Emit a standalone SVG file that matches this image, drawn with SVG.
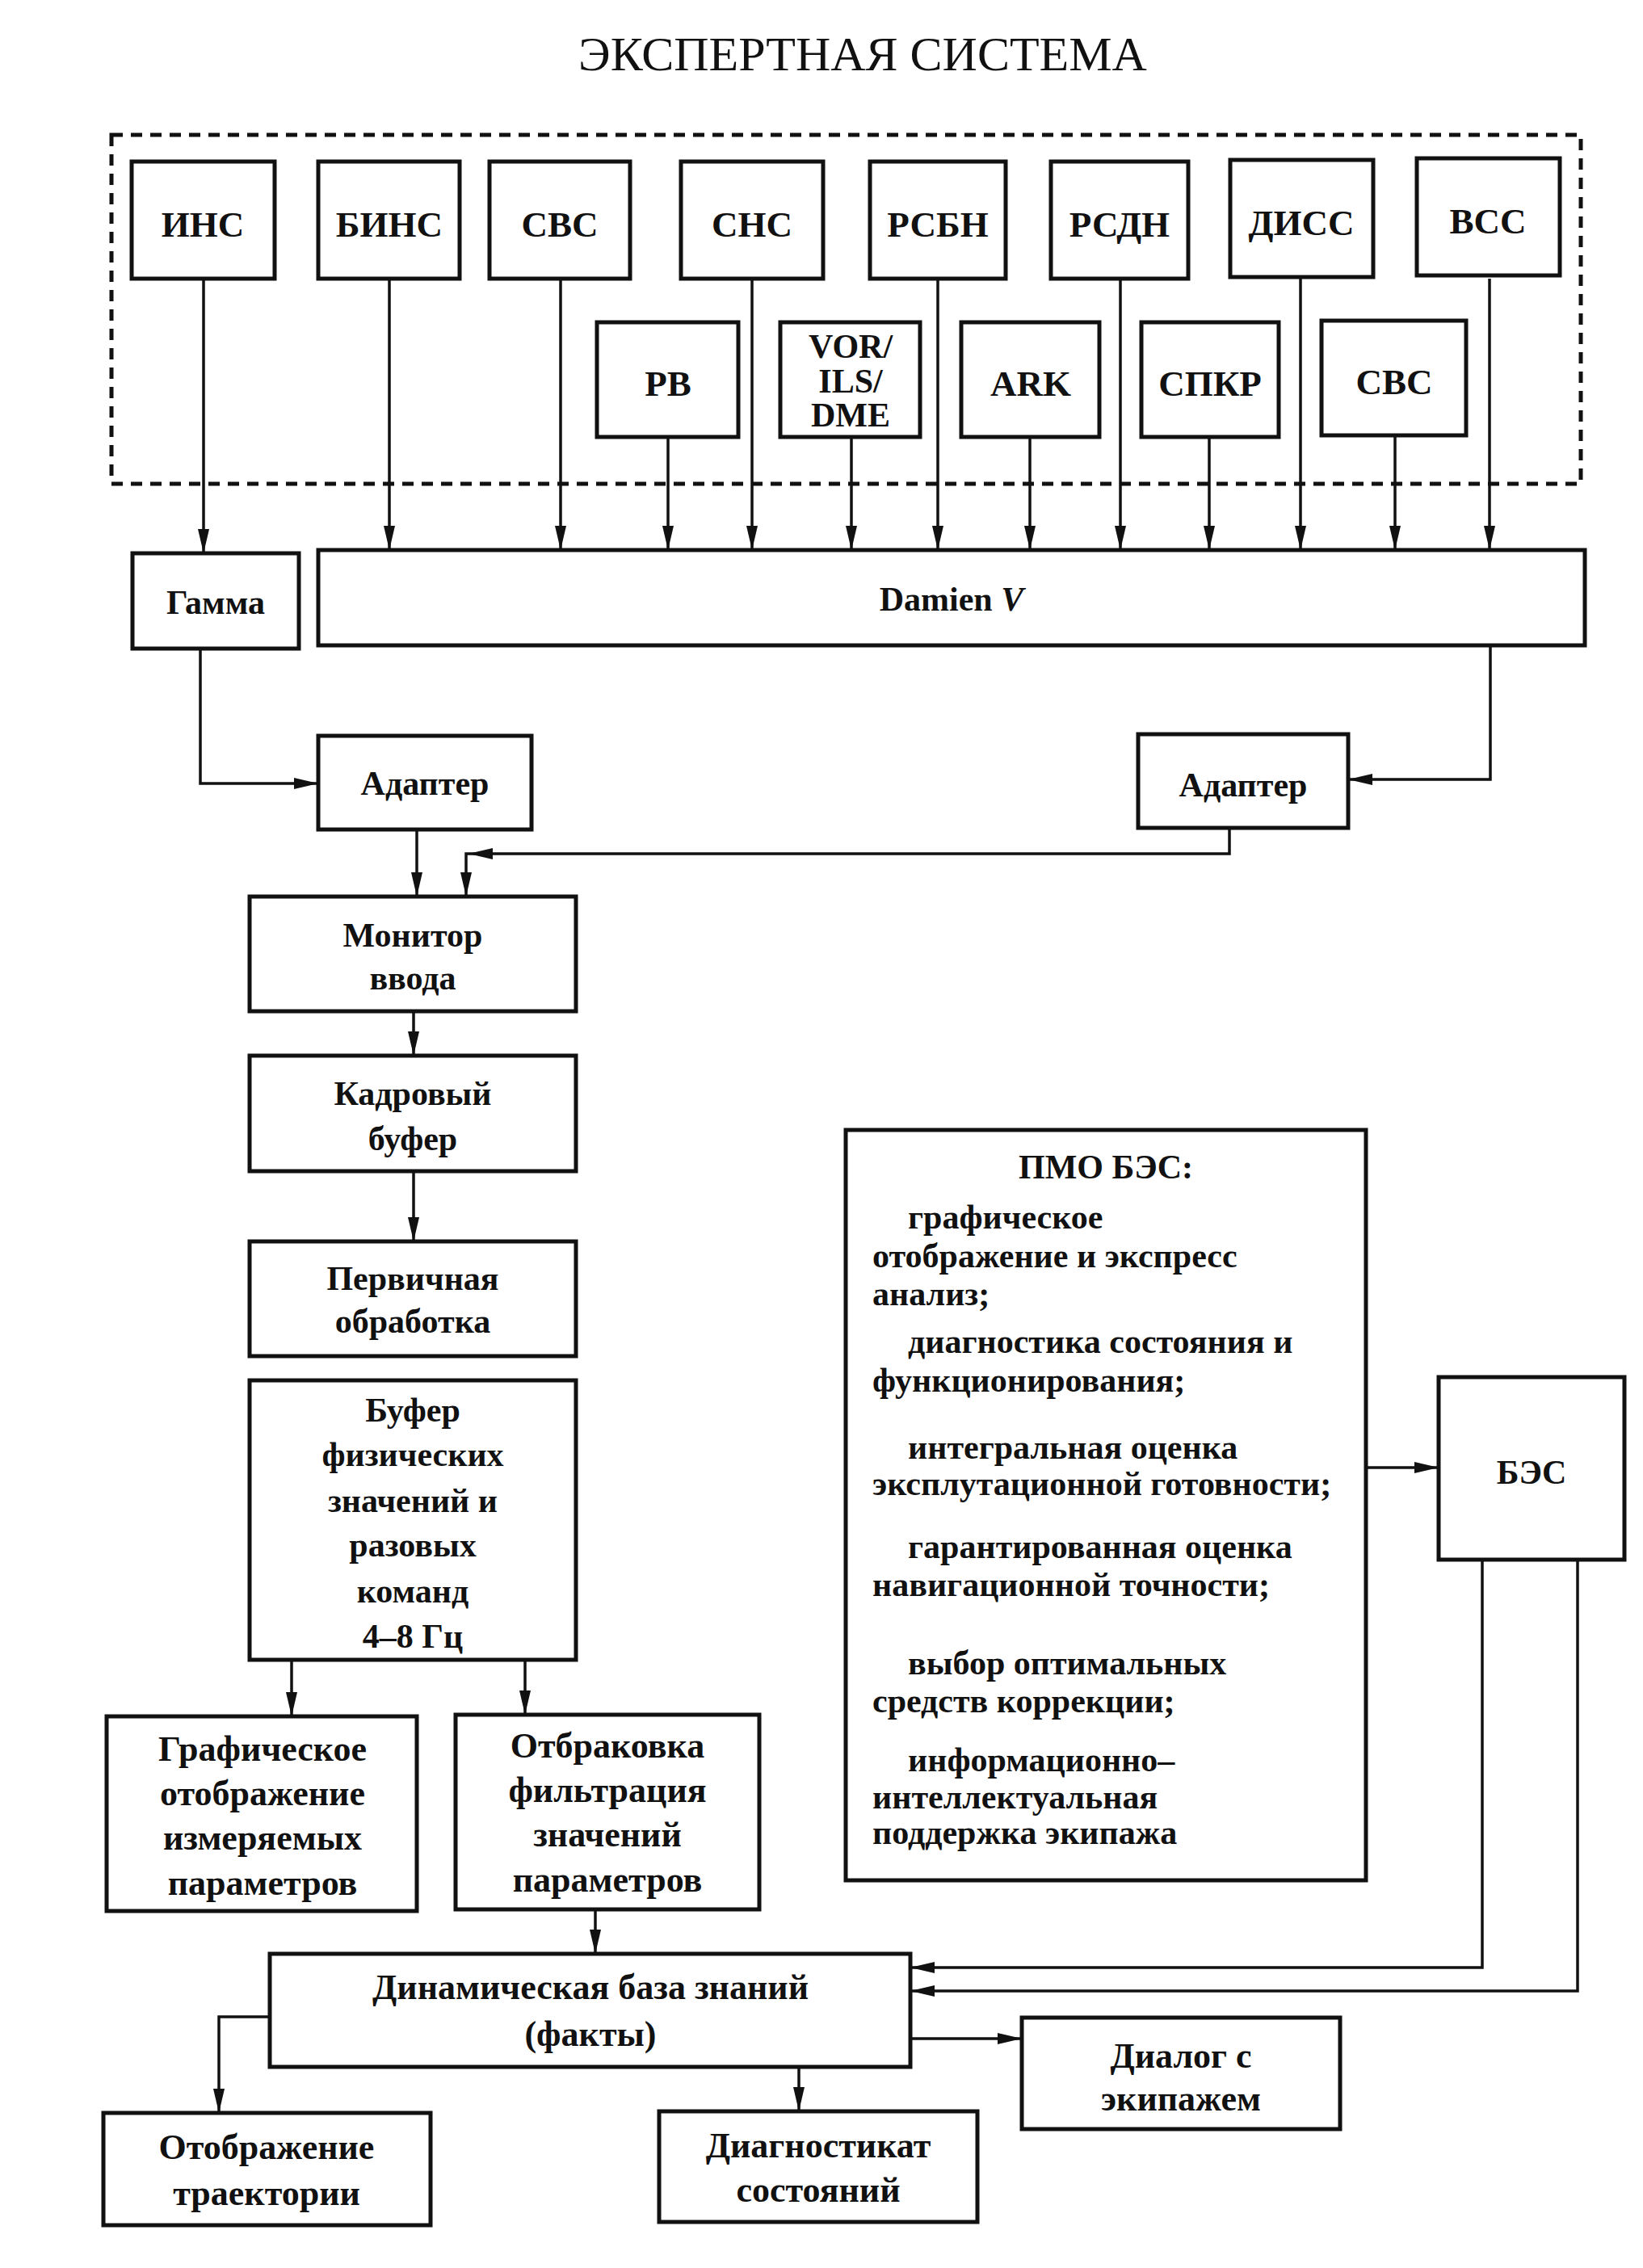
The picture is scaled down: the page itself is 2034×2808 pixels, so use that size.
<svg xmlns="http://www.w3.org/2000/svg" width="2034" height="2808" viewBox="0 0 2034 2808">
<style>
.b{fill:#fff;stroke:#111;stroke-width:5}
.t{font-family:"Liberation Serif","Times New Roman",serif;font-weight:bold;font-size:42px;fill:#111;text-anchor:middle}
.tt{font-size:45px}
.tb{font-size:44px}
.l{font-family:"Liberation Serif","Times New Roman",serif;font-weight:bold;font-size:42px;fill:#111}
.c{fill:none;stroke:#111;stroke-width:3.5}
</style>
<defs>
<marker id="a" markerUnits="userSpaceOnUse" markerWidth="30" markerHeight="14" refX="30" refY="7" orient="auto">
<path d="M0,0 L30,7 L0,14 z" fill="#111"/>
</marker>
</defs>
<rect width="2034" height="2808" fill="#fff"/>
<text x="1068" y="87" font-family="Liberation Serif,Times New Roman,serif" font-size="60" fill="#111" text-anchor="middle">ЭКСПЕРТНАЯ СИСТЕМА</text>
<rect x="138" y="167" width="1819" height="432" fill="none" stroke="#111" stroke-width="5" stroke-dasharray="14 10"/>

<g id="connectors">
<path class="c" marker-end="url(#a)" d="M252,345 V685"/>
<path class="c" marker-end="url(#a)" d="M482,345 V681"/>
<path class="c" marker-end="url(#a)" d="M694,345 V681"/>
<path class="c" marker-end="url(#a)" d="M827,541 V681"/>
<path class="c" marker-end="url(#a)" d="M931,345 V681"/>
<path class="c" marker-end="url(#a)" d="M1054,541 V681"/>
<path class="c" marker-end="url(#a)" d="M1161,345 V681"/>
<path class="c" marker-end="url(#a)" d="M1275,541 V681"/>
<path class="c" marker-end="url(#a)" d="M1387,345 V681"/>
<path class="c" marker-end="url(#a)" d="M1497,541 V681"/>
<path class="c" marker-end="url(#a)" d="M1610,345 V681"/>
<path class="c" marker-end="url(#a)" d="M1727,541 V681"/>
<path class="c" marker-end="url(#a)" d="M1844,345 V681"/>
<path class="c" marker-end="url(#a)" d="M248,803 V970 H394"/>
<path class="c" marker-end="url(#a)" d="M1845,799 V965 H1669"/>
<path class="c" marker-end="url(#a)" d="M516,1027 V1110"/>
<path class="c" marker-end="url(#a)" d="M1522,1025 V1057 H577 V1110"/>
<polygon points="580,1057 610,1050 610,1064" fill="#111"/>
<path class="c" marker-end="url(#a)" d="M512,1252 V1307"/>
<path class="c" marker-end="url(#a)" d="M512,1450 V1537"/>
<path class="c" marker-end="url(#a)" d="M361,2055 V2125"/>
<path class="c" marker-end="url(#a)" d="M650,2055 V2123"/>
<path class="c" marker-end="url(#a)" d="M737,2364 V2419"/>
<path class="c" marker-end="url(#a)" d="M334,2497 H271 V2616"/>
<path class="c" marker-end="url(#a)" d="M989,2559 V2614"/>
<path class="c" marker-end="url(#a)" d="M1127,2524 H1265"/>
<path class="c" marker-end="url(#a)" d="M1691,1817 H1781"/>
<path class="c" marker-end="url(#a)" d="M1835,1931 V2436 H1127"/>
<path class="c" marker-end="url(#a)" d="M1953,1931 V2465 H1127"/>
</g>

<g id="ins"><rect class="b" x="163" y="200" width="177" height="145"/><text class="t tt" x="251" y="293">ИНС</text></g>
<g id="bins"><rect class="b" x="394" y="200" width="175" height="145"/><text class="t tt" x="482" y="293">БИНС</text></g>
<g id="svs1"><rect class="b" x="606" y="200" width="174" height="145"/><text class="t tt" x="693" y="293">СВС</text></g>
<g id="sns"><rect class="b" x="843" y="200" width="176" height="145"/><text class="t tt" x="931" y="293">СНС</text></g>
<g id="rsbn"><rect class="b" x="1077" y="200" width="168" height="145"/><text class="t tt" x="1161" y="293">РСБН</text></g>
<g id="rsdn"><rect class="b" x="1301" y="200" width="170" height="145"/><text class="t tt" x="1386" y="293">РСДН</text></g>
<g id="diss"><rect class="b" x="1523" y="198" width="177" height="145"/><text class="t tt" x="1611" y="291">ДИСС</text></g>
<g id="vss"><rect class="b" x="1754" y="196" width="177" height="145"/><text class="t tt" x="1842" y="289">ВСС</text></g>

<g id="rv"><rect class="b" x="739" y="399" width="175" height="142"/><text class="t tt" x="827" y="490">РВ</text></g>
<g id="vor"><rect class="b" x="966" y="399" width="173" height="142"/><text class="t" x="1053" y="443">VOR/</text><text class="t" x="1053" y="486">ILS/</text><text class="t" x="1053" y="528">DME</text></g>
<g id="ark"><rect class="b" x="1190" y="399" width="171" height="142"/><text class="t tt" x="1276" y="490">ARK</text></g>
<g id="spkr"><rect class="b" x="1413" y="399" width="170" height="142"/><text class="t tt" x="1498" y="490">СПКР</text></g>
<g id="svs2"><rect class="b" x="1636" y="397" width="179" height="142"/><text class="t tt" x="1726" y="488">СВС</text></g>

<g id="gamma"><rect class="b" x="164" y="685" width="206" height="118"/><text class="t" x="267" y="760">Гамма</text></g>
<g id="damien"><rect class="b" x="394" y="681" width="1568" height="118"/><text class="t" x="1178" y="756">Damien <tspan font-style="italic">V</tspan></text></g>

<g id="adapter1"><rect class="b" x="394" y="911" width="264" height="116"/><text class="t" x="526" y="984">Адаптер</text></g>
<g id="adapter2"><rect class="b" x="1409" y="909" width="260" height="116"/><text class="t" x="1539" y="986">Адаптер</text></g>

<g id="monitor"><rect class="b" x="309" y="1110" width="404" height="142"/><text class="t" x="511" y="1172">Монитор</text><text class="t" x="511" y="1225">ввода</text></g>
<g id="kadr"><rect class="b" x="309" y="1307" width="404" height="143"/><text class="t" x="511" y="1368">Кадровый</text><text class="t" x="511" y="1424">буфер</text></g>
<g id="perv"><rect class="b" x="309" y="1537" width="404" height="142"/><text class="t" x="511" y="1597">Первичная</text><text class="t" x="511" y="1650">обработка</text></g>
<g id="bufer"><rect class="b" x="309" y="1709" width="404" height="346"/>
<text class="t" x="511" y="1760">Буфер</text>
<text class="t" x="511" y="1815">физических</text>
<text class="t" x="511" y="1872">значений и</text>
<text class="t" x="511" y="1927">разовых</text>
<text class="t" x="511" y="1984">команд</text>
<text class="t" x="511" y="2040">4–8 Гц</text></g>

<g id="graf"><rect class="b" x="132" y="2125" width="384" height="241"/>
<text class="t tb" x="325" y="2180">Графическое</text>
<text class="t tb" x="325" y="2235">отображение</text>
<text class="t tb" x="325" y="2290">измеряемых</text>
<text class="t tb" x="325" y="2346">параметров</text></g>
<g id="otbr"><rect class="b" x="564" y="2123" width="376" height="241"/>
<text class="t tb" x="752" y="2176">Отбраковка</text>
<text class="t tb" x="752" y="2231">фильтрация</text>
<text class="t tb" x="752" y="2286">значений</text>
<text class="t tb" x="752" y="2342">параметров</text></g>

<g id="pmo"><rect class="b" x="1047" y="1399" width="644" height="929"/>
<text class="t" x="1369" y="1459">ПМО БЭС:</text>
<text class="l" x="1124" y="1521">графическое</text>
<text class="l" x="1080" y="1569">отображение и экспресс</text>
<text class="l" x="1080" y="1616">анализ;</text>
<text class="l" x="1124" y="1675">диагностика состояния и</text>
<text class="l" x="1080" y="1723">функционирования;</text>
<text class="l" x="1124" y="1806">интегральная оценка</text>
<text class="l" x="1080" y="1851">эксплутационной готовности;</text>
<text class="l" x="1124" y="1929">гарантированная оценка</text>
<text class="l" x="1080" y="1976">навигационной точности;</text>
<text class="l" x="1124" y="2073">выбор оптимальных</text>
<text class="l" x="1080" y="2120">средств коррекции;</text>
<text class="l" x="1124" y="2193">информационно–</text>
<text class="l" x="1080" y="2239">интеллектуальная</text>
<text class="l" x="1080" y="2283">поддержка экипажа</text></g>

<g id="bes"><rect class="b" x="1781" y="1705" width="230" height="226"/><text class="t" x="1896" y="1837">БЭС</text></g>

<g id="dbz"><rect class="b" x="334" y="2419" width="793" height="140"/><text class="t tb" x="731" y="2475">Динамическая база знаний</text><text class="t tb" x="731" y="2533">(факты)</text></g>
<g id="dialog"><rect class="b" x="1265" y="2498" width="394" height="138"/><text class="t tb" x="1462" y="2560">Диалог с</text><text class="t tb" x="1462" y="2613">экипажем</text></g>
<g id="otobr"><rect class="b" x="128" y="2616" width="405" height="139"/><text class="t tb" x="330" y="2673">Отображение</text><text class="t tb" x="330" y="2730">траектории</text></g>
<g id="diagn"><rect class="b" x="816" y="2614" width="394" height="137"/><text class="t tb" x="1013" y="2671">Диагностикат</text><text class="t tb" x="1013" y="2726">состояний</text></g>
</svg>
